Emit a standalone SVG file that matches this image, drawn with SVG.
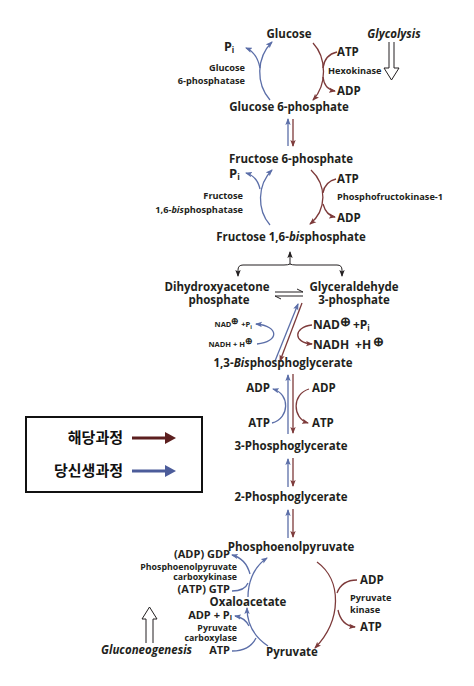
<svg xmlns="http://www.w3.org/2000/svg" width="474" height="686" viewBox="0 0 474 686">
<defs>
<style>
.t{font-family:"Open Sans","Liberation Sans",sans-serif;font-weight:700;fill:#231f20}
.m{font-size:11.5px}
.m2{font-size:11px}
.s{font-size:9.2px}
.s2{font-size:8.8px}
.xs{font-size:7.5px}
.c{text-anchor:middle}
.e{text-anchor:end}
.i{font-style:italic}
.k{font-family:"Noto Sans CJK KR",sans-serif;font-weight:700;font-size:15px;fill:#111;text-anchor:end}
.b{stroke:#5b6ea8;fill:none;stroke-width:1.3}
.r{stroke:#7d3a3a;fill:none;stroke-width:1.3}
.g{stroke:#231f20;fill:none;stroke-width:1}
</style>
<marker id="ab" markerUnits="userSpaceOnUse" markerWidth="7" markerHeight="6" refX="6" refY="3" orient="auto"><path d="M0,0.3 L7,3 L0,5.7 L1.5,3 z" fill="#5b6ea8"/></marker>
<marker id="ar" markerUnits="userSpaceOnUse" markerWidth="7" markerHeight="6" refX="6" refY="3" orient="auto"><path d="M0,0.3 L7,3 L0,5.7 L1.5,3 z" fill="#7d3a3a"/></marker>
<marker id="ak" markerUnits="userSpaceOnUse" markerWidth="7" markerHeight="6" refX="6" refY="3" orient="auto"><path d="M0,0.3 L7,3 L0,5.7 L1.5,3 z" fill="#231f20"/></marker>
</defs>
<rect width="474" height="686" fill="#fff"/>

<g id="connectors">
<!-- glucose step -->
<path class="b" d="M270,100 C256,84 256,58 272,42" marker-end="url(#ab)"/>
<path class="b" d="M260,68 C258,58 253,51 246,48" marker-end="url(#ab)"/>
<path class="r" d="M313,43 C327,58 327,85 313,100" marker-end="url(#ar)"/>
<path class="r" d="M337,52 C328,54 324,60 323,68"/>
<path class="r" d="M323,77 C324,86 328,90 335,91" marker-end="url(#ar)"/>
<!-- G6P <-> F6P -->
<path class="b" d="M288,146 V119" marker-end="url(#ab)"/>
<path class="r" d="M293,119 V146" marker-end="url(#ar)"/>
<!-- fructose step -->
<path class="b" d="M270,225 C257,210 257,185 272,170" marker-end="url(#ab)"/>
<path class="b" d="M260,189 C258,180 253,175 246,173" marker-end="url(#ab)"/>
<path class="r" d="M311,170 C327,185 327,210 310,224" marker-end="url(#ar)"/>
<path class="r" d="M336,179 C328,181 324,186 323,193"/>
<path class="r" d="M323,204 C325,211 329,216 335,217" marker-end="url(#ar)"/>
<!-- aldolase bracket -->
<path class="g" d="M290,264 V252" marker-end="url(#ak)"/>
<path class="g" d="M290,264 Q288,265 284,265 H243 Q238,265 238,270 V276" marker-end="url(#ak)"/>
<path class="g" d="M290,264 Q292,265 296,265 H337 Q342,265 342,270 V276" marker-end="url(#ak)"/>
<!-- isomerase harpoons -->
<path class="g" d="M275,292 H303 L297,289"/>
<path class="g" d="M303,296 H275 L281,299"/>
<!-- GAPDH -->
<path class="b" d="M275,361 L298,304" marker-end="url(#ab)"/>
<path class="r" d="M302,303 L280,361" marker-end="url(#ar)"/>
<path class="b" d="M257,344 C279,342 280,326 256,324" marker-end="url(#ab)"/>
<path class="r" d="M312,325 C293,327 293,343 312,344" marker-end="url(#ar)"/>
<!-- PGK -->
<path class="b" d="M288,434 V375" marker-end="url(#ab)"/>
<path class="r" d="M293,374 V433" marker-end="url(#ar)"/>
<path class="b" d="M272,423 C290,418 290,394 273,389" marker-end="url(#ab)"/>
<path class="r" d="M309,389 C292,394 292,418 308,423" marker-end="url(#ar)"/>
<!-- 3PG <-> 2PG -->
<path class="b" d="M288,487 V459" marker-end="url(#ab)"/>
<path class="r" d="M293,458 V486" marker-end="url(#ar)"/>
<!-- 2PG <-> PEP -->
<path class="b" d="M288,538 V510" marker-end="url(#ab)"/>
<path class="r" d="M293,509 V537" marker-end="url(#ar)"/>
<!-- pyruvate kinase -->
<path class="r" d="M317,562 C342,580 342,620 315,648" marker-end="url(#ar)"/>
<path class="r" d="M357,580 C346,580 340,585 337,593"/>
<path class="r" d="M338,610 C340,620 346,626 355,627" marker-end="url(#ar)"/>
<!-- PEPCK -->
<path class="b" d="M248,597 C248,585 252,568 267,558" marker-end="url(#ab)"/>
<path class="b" d="M232,591 C240,591 246,588 248,583"/>
<path class="b" d="M250,574 C247,563 240,557 232,555" marker-end="url(#ab)"/>
<!-- pyruvate carboxylase -->
<path class="b" d="M268,646 C256,638 247,625 247,608" marker-end="url(#ab)"/>
<path class="b" d="M232,651 C245,651 252,646 256,638"/>
<path class="b" d="M249,626 C246,620 241,617 235,616" marker-end="url(#ab)"/>
</g>

<g id="glycolysis-label">
<text class="t m i c" x="394" y="38">Glycolysis</text>
<path d="M389,42 V68 H384 L391.5,80 L399,68 H394 V42" fill="#fff" stroke="#231f20" stroke-width="1"/>
</g>
<g id="glucose"><text class="t m c" x="289" y="38">Glucose</text></g>
<g id="pi-1"><text class="t" x="224" y="51" font-size="12.5">P<tspan font-size="8" dy="2">i</tspan></text></g>
<g id="glucose-6-phosphatase"><text class="t s e" x="245" y="71">Glucose</text><text class="t s e" x="245" y="84">6-phosphatase</text></g>
<g id="hexokinase"><text class="t m" x="337" y="56">ATP</text><text class="t s" x="328" y="74">Hexokinase</text><text class="t m" x="337" y="95">ADP</text></g>
<g id="glucose-6-phosphate"><text class="t m c" x="289" y="111">Glucose 6-phosphate</text></g>
<g id="fructose-6-phosphate"><text class="t m c" x="291" y="163">Fructose 6-phosphate</text></g>
<g id="pi-2"><text class="t" x="229" y="178" font-size="13">P<tspan font-size="8.5" dy="2">i</tspan></text></g>
<g id="fructose-bisphosphatase"><text class="t s e" x="243" y="199">Fructose</text><text class="t s e" x="243" y="213">1,6-<tspan class="i">bis</tspan>phosphatase</text></g>
<g id="pfk1"><text class="t m" x="337" y="183">ATP</text><text class="t s" x="337" y="200">Phosphofructokinase-1</text><text class="t m" x="337" y="222">ADP</text></g>
<g id="fructose-16-bisphosphate"><text class="t m c" x="291" y="241">Fructose 1,6-<tspan class="i">bis</tspan>phosphate</text></g>
<g id="dhap"><text class="t m c" x="217" y="291">Dihydroxyacetone</text><text class="t m c" x="219" y="304">phosphate</text></g>
<g id="gap"><text class="t m c" x="354" y="291">Glyceraldehyde</text><text class="t m c" x="354" y="304">3-phosphate</text></g>
<g id="nad-left"><text class="t xs e" x="252" y="327">NAD<tspan font-size="9" dy="-3">⊕</tspan><tspan dy="3"> +P</tspan><tspan font-size="5.5" dy="1.5">i</tspan></text><text class="t xs e" x="253" y="347">NADH + H<tspan font-size="9" dy="-3">⊕</tspan></text></g>
<g id="nad-right"><text class="t" font-size="12" x="313" y="329">NAD<tspan font-size="12.5" dy="-3">⊕</tspan><tspan dy="3" dx="2">+P</tspan><tspan font-size="8" dy="2">i</tspan></text><text class="t" font-size="12" x="313" y="349">NADH<tspan dx="6">+H</tspan><tspan font-size="12.5" dy="-3" dx="2">⊕</tspan></text></g>
<g id="bpg13"><text class="t m c" x="283" y="367">1,3-<tspan class="i">Bis</tspan>phosphoglycerate</text></g>
<g id="pgk"><text class="t m e" x="270" y="392">ADP</text><text class="t m" x="312" y="392">ADP</text><text class="t m e" x="270" y="427">ATP</text><text class="t m" x="312" y="427">ATP</text></g>
<g id="pg3"><text class="t m c" x="291" y="450">3-Phosphoglycerate</text></g>
<g id="pg2"><text class="t m c" x="291" y="501">2-Phosphoglycerate</text></g>
<g id="pep"><text class="t m c" x="291" y="551">Phosphoenolpyruvate</text></g>
<g id="pepck"><text class="t m2 e" x="230" y="558">(ADP) GDP</text><text class="t s2 e" x="237" y="569.5">Phosphoenolpyruvate</text><text class="t s2 e" x="237" y="580">carboxykinase</text><text class="t m2 e" x="230" y="593">(ATP) GTP</text></g>
<g id="oxaloacetate"><text class="t m c" x="248" y="606">Oxaloacetate</text></g>
<g id="pyruvate-carboxylase"><text class="t m2 e" x="232" y="619">ADP +  P<tspan font-size="7.5" dy="1">i</tspan></text><text class="t s2 e" x="237" y="630.5">Pyruvate</text><text class="t s2 e" x="237" y="641">carboxylase</text><text class="t m2 e" x="230" y="654">ATP</text></g>
<g id="pyruvate"><text class="t m c" x="292" y="656">Pyruvate</text></g>
<g id="pyruvate-kinase"><text class="t m" x="360" y="584">ADP</text><text class="t s" x="350" y="601">Pyruvate</text><text class="t s" x="350" y="613">kinase</text><text class="t m" x="360" y="631">ATP</text></g>
<g id="gluconeogenesis-label">
<path d="M146,643 V619 H142 L149.5,607 L157,619 H153 V643" fill="#fff" stroke="#231f20" stroke-width="1"/>
<text class="t m i e" x="192" y="654">Gluconeogenesis</text>
</g>
<g id="legend">
<rect x="26" y="417" width="176" height="75" fill="#fff" stroke="#111" stroke-width="2"/>
<text class="k" x="123" y="443">해당과정</text>
<path d="M132,438 H168" stroke="#5c1f1f" stroke-width="3"/>
<path d="M165,432 L176,438 L165,444 z" fill="#5c1f1f"/>
<text class="k" x="123" y="476">당신생과정</text>
<path d="M132,471 H168" stroke="#4c5c9a" stroke-width="3"/>
<path d="M165,465 L176,471 L165,477 z" fill="#4c5c9a"/>
</g>
</svg>
